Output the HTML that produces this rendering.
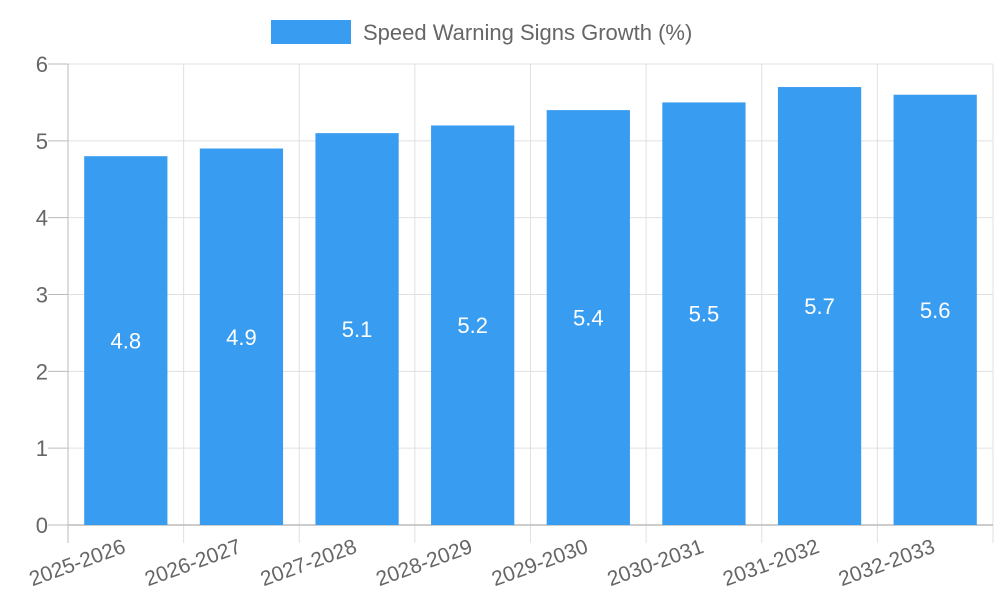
<!DOCTYPE html>
<html><head><meta charset="utf-8"><style>
body{margin:0;background:#fff;font-family:"Liberation Sans",sans-serif}
</style></head><body>
<svg id="c" width="1000" height="600" font-family="Liberation Sans, sans-serif"></svg>
<script>
const categories=["2025-2026","2026-2027","2027-2028","2028-2029","2029-2030","2030-2031","2031-2032","2032-2033"];
const values=[4.8,4.9,5.1,5.2,5.4,5.5,5.7,5.6];
const yTicks=[0,1,2,3,4,5,6];
const NS="http://www.w3.org/2000/svg",svg=document.getElementById('c');
const L=68,R=993,T=64,B=525,yMax=6;
const band=(R-L)/categories.length;
const y=v=>B-(v/yMax)*(B-T);
const xc=i=>L+band*(i+0.5);
function mk(t,a,p){const e=document.createElementNS(NS,t);for(const k in a)e.setAttribute(k,a[k]);(p||svg).appendChild(e);return e;}
const grid=mk('g',{});


yTicks.forEach(t=>{if(t>0)mk('line',{x1:L,x2:R,y1:y(t),y2:y(t),stroke:'#e0e0e0','stroke-width':1},grid);
 mk('line',{x1:L-20,x2:L,y1:y(t),y2:y(t),stroke:'#bbb'},grid);
 const tx=mk('text',{x:L-20,y:y(t)+8,'text-anchor':'end','font-size':22,fill:'#666'});tx.textContent=t;
 });
for(let i=0;i<=categories.length;i++){const x=L+band*i;mk('line',{x1:x,x2:x,y1:T,y2:B+18,stroke:i==0?'#bbb':'#e0e0e0'},grid);}
mk('line',{x1:L,x2:R,y1:B,y2:B,stroke:'#bbb','stroke-width':1.5},grid);
const bw=band*0.72;
categories.forEach((c,i)=>{
 const r=mk('rect',{x:xc(i)-bw/2,y:y(values[i]),width:bw,height:B-y(values[i]),fill:'#389cf0'});
 
 const t=mk('text',{x:xc(i),y:(y(values[i])+B)/2+8,'text-anchor':'middle','font-size':22,fill:'#fff'});t.textContent=values[i];
 
 const xl=mk('text',{x:xc(i)+1,y:552,'text-anchor':'end','font-size':21,fill:'#666',transform:`rotate(-20 ${xc(i)+1} 552)`});xl.textContent=c;
 
});
const lg=mk('g',{});

mk('rect',{x:271,y:20,width:80,height:24,fill:'#389cf0'},lg);
const lt=mk('text',{x:363,y:40,'font-size':22,fill:'#666'},lg);lt.textContent='Speed Warning Signs Growth (%)';
</script>
</body></html>
